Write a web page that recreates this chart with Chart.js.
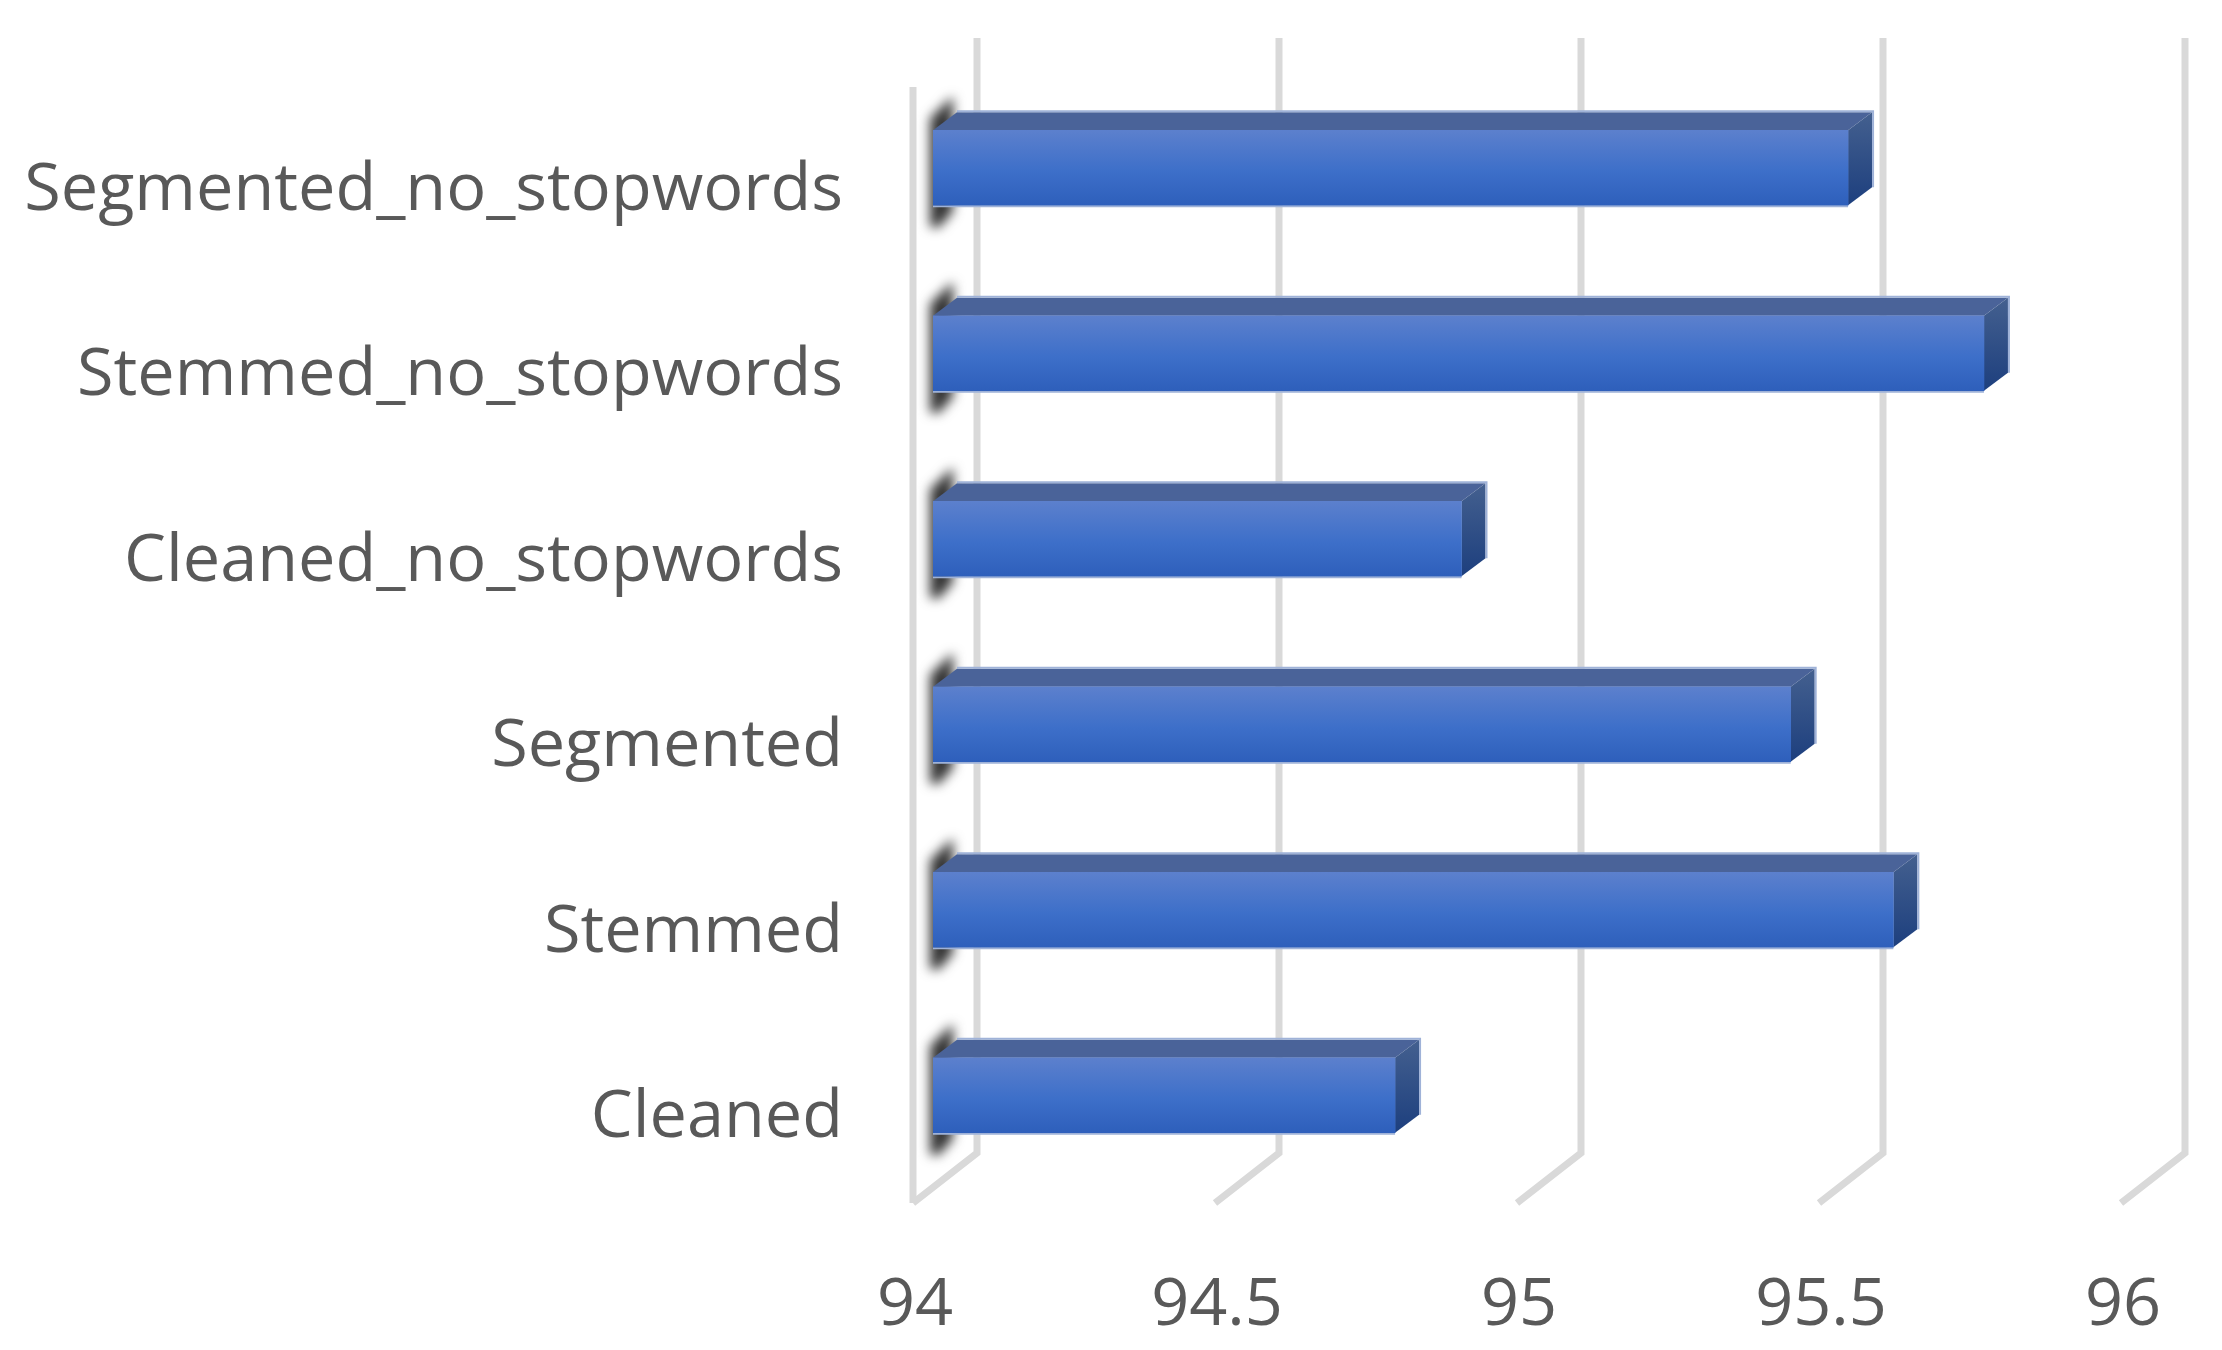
<!DOCTYPE html>
<html>
<head>
<meta charset="utf-8">
<script src="https://cdn.jsdelivr.net/npm/chart.js@4"></script>
<style>
  html, body { margin: 0; padding: 0; background: #fff; }
  canvas { display: block; }
</style>
</head>
<body>
<canvas id="chart" width="2222" height="1350"></canvas>
<script>
const categories = ["Segmented_no_stopwords", "Stemmed_no_stopwords", "Cleaned_no_stopwords", "Segmented", "Stemmed", "Cleaned"];
const accuracy = [95.515, 95.74, 94.875, 95.42, 95.59, 94.765];
const axisMin = 94;
const axisMax = 96;
const axisStep = 0.5;

// fake 3D depth, in pixels
const depthX = 24;
const depthY = 18;
const backX = 44;
const frontX = -20;
const gridColor = "#d9d9d9";

const fakeDepth = {
  id: "fakeDepth",
  beforeDatasetsDraw(chart) {
    const ctx = chart.ctx;
    const xs = chart.scales.x;
    const top = 38, backBottom = 1153, frontBottom = 1203;

    // gridlines on the back wall and the floor
    ctx.save();
    ctx.strokeStyle = gridColor;
    ctx.lineWidth = 7;
    ctx.lineJoin = "miter";
    xs.ticks.forEach(t => {
      const px = xs.getPixelForValue(t.value);
      ctx.beginPath();
      ctx.moveTo(px + backX, top);
      ctx.lineTo(px + backX, backBottom);
      ctx.lineTo(px + frontX, frontBottom);
      ctx.stroke();
    });
    // front edge of the side wall
    const p0 = xs.getPixelForValue(axisMin);
    ctx.beginPath();
    ctx.moveTo(p0 + frontX, 87);
    ctx.lineTo(p0 + frontX, frontBottom);
    ctx.stroke();
    ctx.restore();

    chart.getDatasetMeta(0).data.forEach(bar => {
      const left = bar.base, right = bar.x;
      const t = bar.y - bar.height / 2, b = bar.y + bar.height / 2;

      // soft shadow where the bar meets the side wall
      ctx.save();
      ctx.filter = "blur(6px)";
      ctx.fillStyle = "#333";
      ctx.beginPath();
      ctx.moveTo(left - 3, t - 12);
      ctx.lineTo(left + 20, t - 34);
      ctx.lineTo(left + 20, b + 6);
      ctx.lineTo(left + 6, b + 22);
      ctx.lineTo(left - 3, b + 22);
      ctx.closePath();
      ctx.fill();
      ctx.restore();

      // top face
      ctx.fillStyle = "#4a6399";
      ctx.beginPath();
      ctx.moveTo(left, t);
      ctx.lineTo(left + depthX, t - depthY);
      ctx.lineTo(right + depthX, t - depthY);
      ctx.lineTo(right, t);
      ctx.closePath();
      ctx.fill();

      // right face
      const g = ctx.createLinearGradient(0, t - depthY, 0, b);
      g.addColorStop(0, "#44608f");
      g.addColorStop(1, "#1d3f7e");
      ctx.fillStyle = g;
      ctx.beginPath();
      ctx.moveTo(right, t);
      ctx.lineTo(right + depthX, t - depthY);
      ctx.lineTo(right + depthX, b - depthY);
      ctx.lineTo(right, b);
      ctx.closePath();
      ctx.fill();

      // thin light outline
      ctx.strokeStyle = "#9fb2d8";
      ctx.lineWidth = 2;
      ctx.beginPath();
      ctx.moveTo(left + depthX, t - depthY - 1);
      ctx.lineTo(right + depthX + 1, t - depthY - 1);
      ctx.lineTo(right + depthX + 1, b - depthY);
      ctx.moveTo(left, b + 1);
      ctx.lineTo(right, b + 1);
      ctx.stroke();
    });
  }
};

new Chart("chart", {
  type: "bar",
  data: {
    labels: categories,
    datasets: [{
      data: accuracy,
      base: axisMin,
      barThickness: 75,
      borderWidth: 0,
      backgroundColor(c) {
        const ys = c.chart.scales.y;
        const y = ys && c.dataIndex !== undefined ? ys.getPixelForValue(c.dataIndex) : NaN;
        if (!Number.isFinite(y)) return "#3f70c9";
        const g = c.chart.ctx.createLinearGradient(0, y - 37.5, 0, y + 37.5);
        g.addColorStop(0, "#5c80cd");
        g.addColorStop(0.55, "#3d6fc9");
        g.addColorStop(1, "#2e5fbb");
        return g;
      }
    }]
  },
  plugins: [fakeDepth],
  options: {
    indexAxis: "y",
    responsive: false,
    animation: false,
    layout: { padding: { top: 75, right: 81, left: 0, bottom: 0 } },
    plugins: { legend: { display: false }, tooltip: { enabled: false } },
    scales: {
      x: {
        min: axisMin,
        max: axisMax,
        // tick marks stay hidden, tickLength only pushes the labels down
        grid: { display: false, drawTicks: true, tickLength: 78 },
        border: { display: false },
        afterFit(scale) { scale.height = 162; },
        ticks: {
          stepSize: axisStep,
          maxRotation: 0,
          padding: 0,
          labelOffset: -18,
          color: "#595959",
          callback: v => String(v),
          font: { family: "Open Sans", size: 66.6 }
        }
      },
      y: {
        grid: { display: false, drawTicks: true, tickLength: 90 },
        border: { display: false },
        afterFit(scale) { scale.width = 933; },
        ticks: {
          padding: 0,
          labelOffset: 23,
          color: "#595959",
          font: { family: "Open Sans", size: 66.6 }
        }
      }
    }
  }
});
</script>
</body>
</html>
